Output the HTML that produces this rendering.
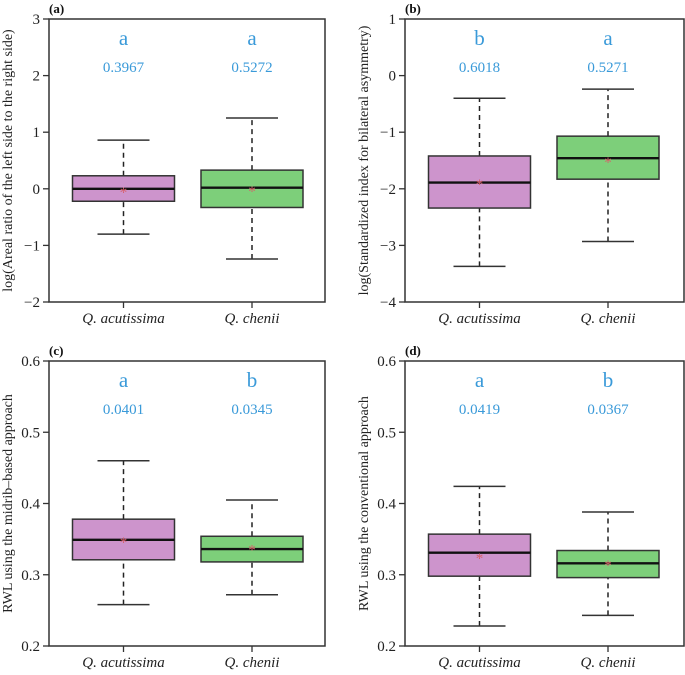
<!DOCTYPE html>
<html><head><meta charset="utf-8"><style>
body{margin:0;background:#fff;}
svg text{font-family:"Liberation Serif",serif;}
</style></head><body>
<svg id="chart" width="685" height="670" xmlns="http://www.w3.org/2000/svg"></svg>
<script>
const categories = ["Q. acutissima", "Q. chenii"];
const panelLabels = ["(a)", "(b)", "(c)", "(d)"];
const yTitles = ["log(Areal ratio of the left side to the right side)", "log(Standardized index for bilateral asymmetry)", "RWL using the midrib\u2013based approach", "RWL using the conventional approach"];
const yTicksA = [-2, -1, 0, 1, 2, 3];
const yTicksB = [-4, -3, -2, -1, 0, 1];
const yTicksC = [0.2, 0.3, 0.4, 0.5, 0.6];
const yTicksD = [0.2, 0.3, 0.4, 0.5, 0.6];
// [lowWhisker, q1, median, q3, highWhisker, mean]
const statsA = [[-0.8, -0.22, 0.0, 0.23, 0.86, 0.0], [-1.24, -0.33, 0.02, 0.33, 1.25, 0.01]];
const statsB = [[-3.37, -2.34, -1.89, -1.42, -0.4, -1.86], [-2.93, -1.83, -1.46, -1.07, -0.24, -1.47]];
const statsC = [[0.258, 0.321, 0.349, 0.378, 0.46, 0.35], [0.272, 0.318, 0.336, 0.354, 0.405, 0.34]];
const statsD = [[0.228, 0.298, 0.331, 0.357, 0.424, 0.328], [0.243, 0.296, 0.316, 0.334, 0.388, 0.318]];
const lettersA = ["a", "a"], lettersB = ["b", "a"], lettersC = ["a", "b"], lettersD = ["a", "b"];
const valuesA = ["0.3967", "0.5272"], valuesB = ["0.6018", "0.5271"], valuesC = ["0.0401", "0.0345"], valuesD = ["0.0419", "0.0367"];

const NS = "http://www.w3.org/2000/svg";
const svg = document.getElementById("chart");
function mk(tag, attrs, parent, text) {
  const e = document.createElementNS(NS, tag);
  for (const k in attrs) e.setAttribute(k, attrs[k]);
  if (text !== undefined) e.textContent = text;
  (parent || svg).appendChild(e);
  return e;
}
const fills = ["#cd94cc", "#7dcf7a"];
const panels = [
  {l:49, r:325, t:19, b:302, ticks:yTicksA, stats:statsA, letters:lettersA, vals:valuesA, dec:0},
  {l:405, r:684, t:19, b:302, ticks:yTicksB, stats:statsB, letters:lettersB, vals:valuesB, dec:0},
  {l:49, r:325, t:361, b:646, ticks:yTicksC, stats:statsC, letters:lettersC, vals:valuesC, dec:1},
  {l:405, r:684, t:361, b:646, ticks:yTicksD, stats:statsD, letters:lettersD, vals:valuesD, dec:1}
];
panels.forEach((p, i) => {
  const g = mk("g", {});
  
  
  const ymin = p.ticks[0], ymax = p.ticks[p.ticks.length - 1];
  const y = v => p.b - (v - ymin) / (ymax - ymin) * (p.b - p.t);
  const x = k => p.l + 74.5 + k * 128.5;
  p.ticks.forEach(tv => {
    mk("line", {x1:p.l-6, x2:p.l, y1:y(tv), y2:y(tv), stroke:"#333", "stroke-width":1.3}, g);
    const t = mk("text", {x:p.l-9, y:y(tv)+5, "text-anchor":"end", "font-size":15, fill:"#222"}, g, tv < 0 ? "\u2212" + Math.abs(tv) : tv.toFixed(p.dec));
    
    
  });
  const yt = mk("text", {transform:`translate(${p.l-37},${(p.t+p.b)/2}) rotate(-90)`, "text-anchor":"middle", "font-size":14, fill:"#222"}, g, yTitles[i]);
  
  
  const pl = mk("text", {x:p.l, y:p.t-6, "font-size":13, "font-weight":"bold", fill:"#111"}, g, panelLabels[i]);
  
  
  categories.forEach((c, k) => {
    const s = p.stats[k], cx = x(k);
    mk("line", {x1:cx, x2:cx, y1:p.b, y2:p.b+6, stroke:"#333", "stroke-width":1.3}, g);
    const xl = mk("text", {x:cx, y:p.b+21, "text-anchor":"middle", "font-size":15, "font-style":"italic", fill:"#222"}, g, c);
    
    
    const w = mk("path", {d:`M${cx},${y(s[0])}V${y(s[1])}M${cx},${y(s[3])}V${y(s[4])}`, stroke:"#222", "stroke-width":1.5, "stroke-dasharray":"5,4", fill:"none"}, g);
    
    
    mk("path", {d:`M${cx-26},${y(s[0])}H${cx+26}M${cx-26},${y(s[4])}H${cx+26}`, stroke:"#333", "stroke-width":1.5}, g);
    const bx = mk("rect", {x:cx-51, y:y(s[3]), width:102, height:y(s[1])-y(s[3]), fill:fills[k], stroke:"#333", "stroke-width":1.5}, g);
    
    
    mk("line", {x1:cx-51, x2:cx+51, y1:y(s[2]), y2:y(s[2]), stroke:"#111", "stroke-width":2.4}, g);
    const m = mk("text", {x:cx, y:y(s[5])+8, "text-anchor":"middle", "font-size":15, "font-family":"DejaVu Sans, sans-serif", fill:"#d9606a"}, g, "*");
    
    
    const lt = mk("text", {x:cx, y:p.t+26, "text-anchor":"middle", "font-size":21, fill:"#3a9ad9"}, g, p.letters[k]);
    
    
    const vt = mk("text", {x:cx, y:p.t+53, "text-anchor":"middle", "font-size":15, fill:"#3a9ad9"}, g, p.vals[k]);
    
    
  });
  const fr = mk("rect", {x:p.l, y:p.t, width:p.r-p.l, height:p.b-p.t, fill:"none", stroke:"#333", "stroke-width":1.5}, g);
  
  
});
</script>
</body></html>
